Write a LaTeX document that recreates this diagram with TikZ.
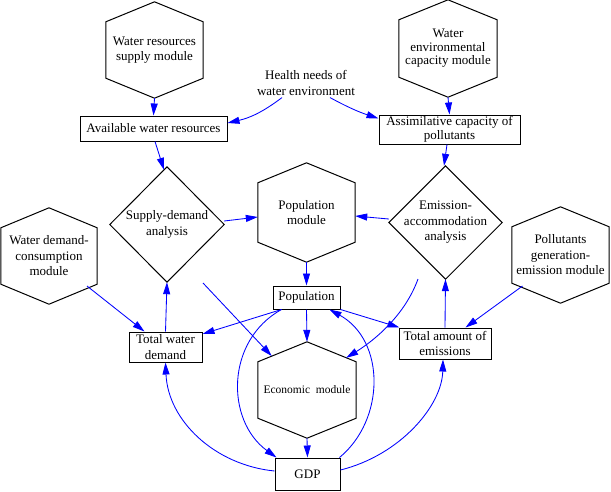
\documentclass[tikz,border=0pt]{standalone}
\usepackage{fontspec}
\setmainfont{Liberation Serif}
\usetikzlibrary{arrows.meta,calc}
\tikzset{
  txt/.style={font=\fontsize{13}{15.5}\selectfont, align=center},
  box/.style={txt, draw=black, line width=1pt, inner sep=1pt},
  hexbase/.style={txt, draw=none, inner sep=0pt},
  shapeline/.style={draw=black, line width=1pt},
  conn/.style={draw=blue, line width=0.85pt, -{Triangle[length=12pt,width=7pt]}}
}
\newcommand{\drawhex}[1]{\draw[shapeline] (#1.north) -- ([yshift=-20pt]#1.north east) -- ([yshift=20pt]#1.south east) -- (#1.south) -- ([yshift=20pt]#1.south west) -- ([yshift=-20pt]#1.north west) -- cycle;}
\newcommand{\drawdia}[1]{\draw[shapeline] (#1.north) -- (#1.east) -- (#1.south) -- (#1.west) -- cycle;}
\begin{document}
\begin{tikzpicture}[x=1pt,y=-1pt]
\useasboundingbox (0,0) rectangle (611,491);
% hexagon modules
\node[hexbase, minimum width=97pt, minimum height=96pt] (wrs) at (154.5,50) {Water resources\\supply module};
\node[hexbase, minimum width=98pt, minimum height=97pt, font=\fontsize{13}{13.5}\selectfont] (wec) at (448,48.5) {Water\\environmental\\capacity module};
\node[hexbase, minimum width=97pt, minimum height=99pt] (pop) at (306.5,212.5) {Population\\module};
\node[hexbase, minimum width=96pt, minimum height=96pt] (wdc) at (49,256) {Water demand-\\consumption\\module};
\node[hexbase, minimum width=97pt, minimum height=96pt] (pge) at (560.5,255) {Pollutants\\generation-\\emission module};
\node[hexbase, minimum width=98pt, minimum height=96pt, font=\fontsize{11.5}{13}\selectfont] (eco) at (307,390) {Economic\ \ module};
\drawhex{wrs}
\drawhex{wec}
\drawhex{pop}
\drawhex{wdc}
\drawhex{pge}
\drawhex{eco}
% diamonds
\node[hexbase, minimum width=114pt, minimum height=115pt] (sda) at (167,224.5) {Supply-demand\\analysis};
\node[hexbase, minimum width=113pt, minimum height=113pt] (emi) at (445.5,222.5) {Emission-\\accommodation\\analysis};
\drawdia{sda}
\drawdia{emi}
% boxes
\node[box, minimum width=147pt, minimum height=25pt] (avail) at (153.5,128.5) {Available water resources};
\node[box, minimum width=141pt, minimum height=29pt, font=\fontsize{13}{14}\selectfont] (assim) at (449.5,129.5) {Assimilative capacity of\\pollutants};
\node[box, minimum width=67pt, minimum height=23pt] (popb) at (306.5,297.5) {Population};
\node[box, minimum width=73pt, minimum height=30pt] (twd) at (165.5,347) {Total water\\demand};
\node[box, minimum width=92pt, minimum height=31pt] (tem) at (445,343.5) {Total amount of\\emissions};
\node[box, minimum width=65pt, minimum height=32pt] (gdp) at (307.5,474) {GDP};
% label
\node[txt, inner sep=0pt] (health) at (306,83) {Health needs of\\water environment};
% free ends
\coordinate (fl1) at (203,283);
\coordinate (fl2) at (418,279);
% connectors
\draw[conn] (wrs.south) -- (avail.north);
\draw[conn] (wec.south) -- (assim.north);
\draw[conn] ([xshift=-24pt,yshift=-2pt]health.south) to[bend left=12] ([yshift=5.5pt]avail.east);
\draw[conn] ([xshift=24pt,yshift=-2pt]health.south) to[bend right=5] ([yshift=11pt]assim.west);
\draw[conn] ([xshift=1.5pt]avail.south) -- ([xshift=-3pt,yshift=-3pt]sda.north);
\draw[conn] ([xshift=-2.5pt]assim.south) -- ([xshift=-1.5pt]emi.north);
\draw[conn] ([yshift=3.5pt]sda.east) -- ([yshift=-4.5pt]pop.west);
\draw[conn] ([yshift=3.5pt]emi.west) -- ([yshift=-3.5pt]pop.east);
\draw[conn] (twd.north) -- (sda.south);
\draw[conn] (tem.north) -- (emi.south);
\draw[conn] ($(wdc.center)+(38,30)$) -- ($(twd.north west)+(16,0)$);
\draw[conn] ($(pge.center)+(-38,31)$) -- ($(tem.north west)+(67,0)$);
\draw[conn] ($(popb.south west)+(9,0)$) -- ($(twd.east)+(0,-13)$);
\draw[conn] (popb.south east) -- ($(tem.north west)+(1,0)$);
\draw[conn] (pop.south) -- (popb.north);
\draw[conn] (popb.south) -- (eco.north);
\draw[conn] (eco.south) -- (gdp.north);
\draw[conn] (fl1) -- ($(eco.north west)+(14,14.3)$);
\draw[conn] (fl2) .. controls (405,315) and (375,340) .. ($(eco.north east)+(-10,16)$);
\draw[conn] ($(popb.south west)+(9,0)$) .. controls +(-56,31) and +(-51,-37) .. ($(gdp.north west)+(2,0)$);
\draw[conn] ($(gdp.north east)+(-1,0)$) .. controls +(46,-38) and +(56,31) .. ($(popb.south east)+(-11,0)$);
\draw[conn] ($(gdp.west)+(0,-3)$) .. controls +(-60,-6) and +(2.5,58) .. (twd.south);
\draw[conn] ($(gdp.east)+(0,-4)$) .. controls +(60,-15) and +(-1,46) .. ($(tem.south)+(-2,0)$);
\end{tikzpicture}
\end{document}
